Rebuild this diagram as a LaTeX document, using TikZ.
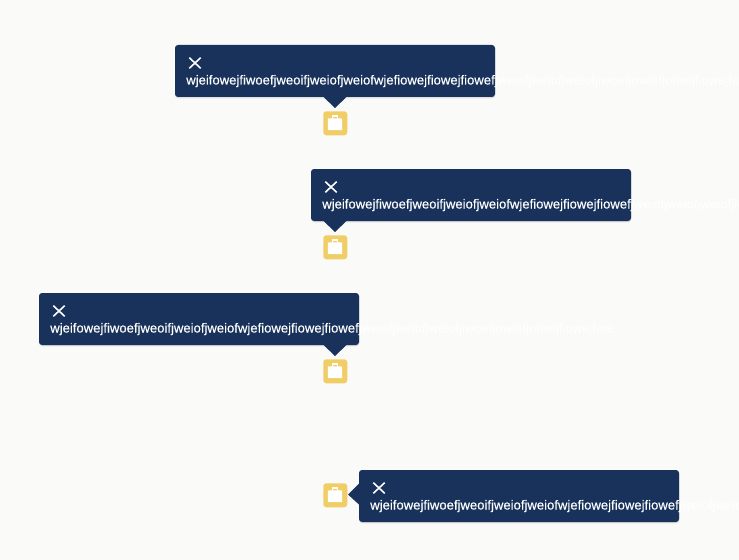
\documentclass[tikz,border=0pt]{standalone}
\usepackage{fontspec}
\setmainfont{Liberation Sans}
\newfontfamily\tipfont{Liberation Sans}[FakeBold=0.3]
\definecolor{bgc}{HTML}{FAFAF8}
\definecolor{navy}{HTML}{18325B}
\definecolor{gold}{HTML}{F1CE65}
\definecolor{shadowc}{HTML}{DEDFDF}
\tikzset{
  tipbox/.style={fill=navy,rounded corners=2.25pt,minimum width=240pt,minimum height=39pt,inner sep=0pt,outer sep=0pt,anchor=north west},
  tipshadow/.style={fill=shadowc,rounded corners=2.25pt,minimum width=240pt,minimum height=39pt,inner sep=0pt,anchor=north west},
  tiptext/.style={text=white,font=\tipfont\fontsize{9.82}{11}\selectfont,inner sep=0pt,anchor=base west},
  iconbox/.style={fill=gold,rounded corners=2.25pt,minimum size=18pt,inner sep=0pt,anchor=north west},
  closemark/.style={draw=white,line width=1.2pt},
  pointer/.style={fill=navy},
  caseline/.style={fill=white,rounded corners=0.6pt},
  casehandle/.style={draw=white,line width=1.1pt}
}
\newcommand{\mytext}{wjeifowejfiwoefjweoifjweiofjweiofwjefiowejfiowejfiowefjweiofjweiofjweiofjiwoefjowiefjoiwejfiowejfoie}
% box name, box x, box y
\newcommand{\tipat}[3]{%
  \node[tipshadow] (#1s) at (#2,#3+1) {};
  \node[tipbox] (#1) at (#2,#3) {};
  \node[tiptext] (#1t) at (#2+11,#3+39.5) {\mytext};
  \draw[closemark] (#2+14.3,#3+12.7) -- (#2+25.7,#3+23.3) (#2+25.7,#3+12.7) -- (#2+14.3,#3+23.3);
}
% icon name, icon x, icon y
\newcommand{\iconat}[3]{%
  \node[iconbox] (#1) at (#2,#3) {};
  \fill[caseline] (#2+4.8,#3+7.3) rectangle (#2+19.2,#3+19.2);
  \draw[casehandle] (#2+9.6,#3+7.5) -- (#2+9.6,#3+4.8) -- (#2+14.4,#3+4.8) -- (#2+14.4,#3+7.5);
}
\begin{document}
\begin{tikzpicture}[x=0.75pt,y=-0.75pt]
\useasboundingbox (0,0) rectangle (739,560);
\fill[bgc] (0,0) rectangle (739,560);
\begin{scope}
\clip (0,0) rectangle (739,560);
\tipat{a}{175}{45}
\fill[pointer] (323,96.5) -- (347,96.5) -- (335,108) -- cycle;
\iconat{ia}{323}{111}
\tipat{b}{311}{169}
\fill[pointer] (323,220.5) -- (347,220.5) -- (335,232) -- cycle;
\iconat{ib}{323}{235}
\tipat{c}{39}{293}
\fill[pointer] (323,344.5) -- (347,344.5) -- (335,356) -- cycle;
\iconat{ic}{323}{359}
\tipat{d}{359}{470}
\fill[pointer] (359.5,483) -- (359.5,505) -- (348,494.5) -- cycle;
\iconat{id}{323}{483}
\end{scope}
\end{tikzpicture}
\end{document}
